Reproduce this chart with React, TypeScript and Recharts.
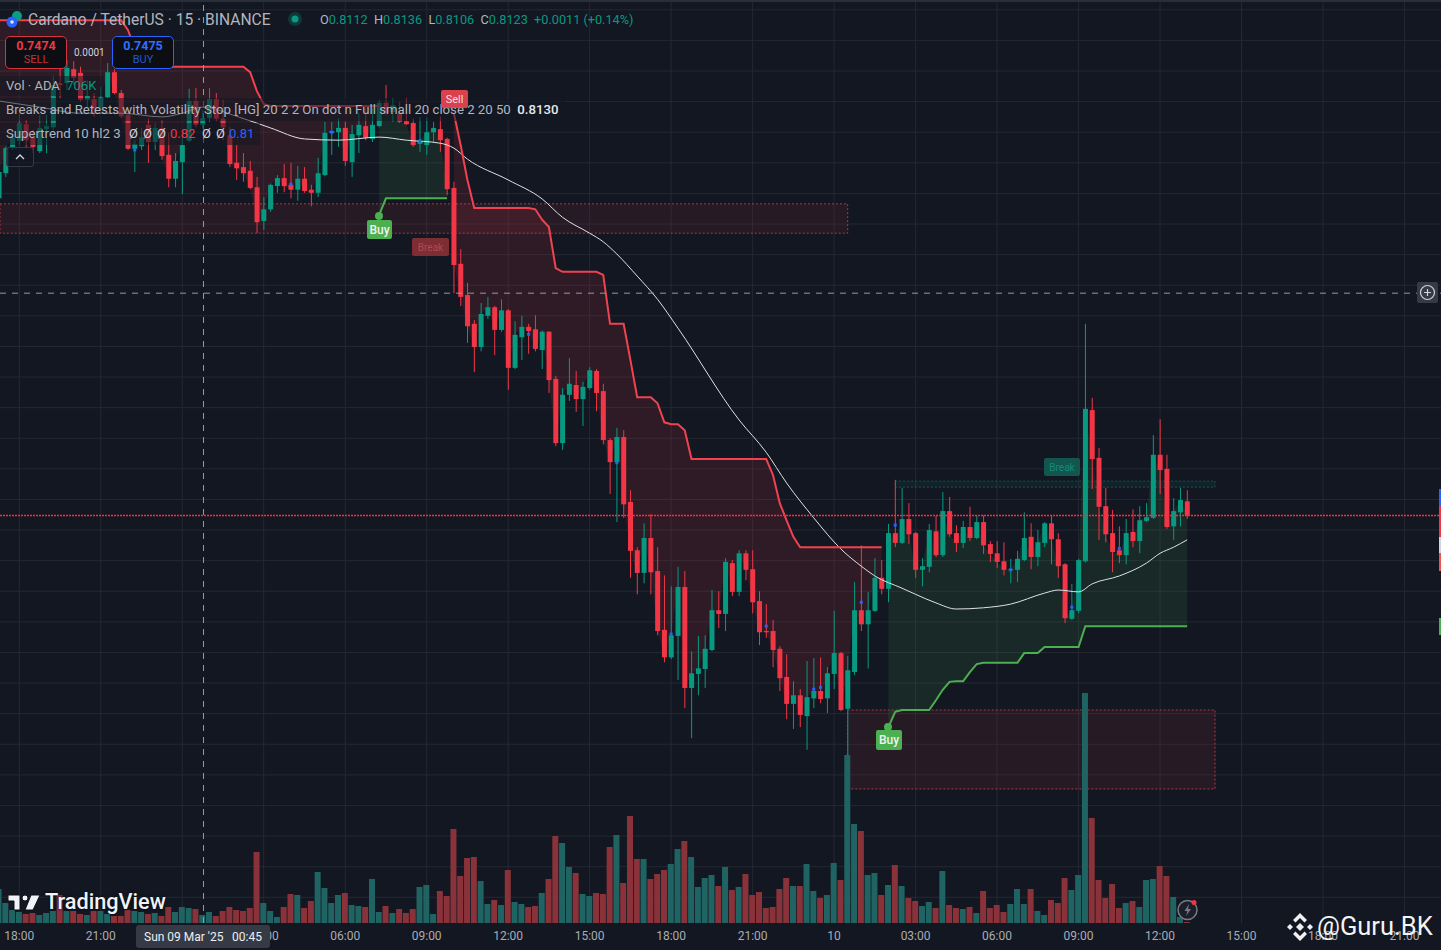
import React from 'react';
import {
  Area,
  Bar,
  CartesianGrid,
  ComposedChart,
  Line,
  ReferenceArea,
  ReferenceLine,
  Scatter,
  XAxis,
  YAxis,
} from 'recharts';

// 15m ADAUSDT, first bar is the one cut off at the left edge
const opens = [
  0.7992, 0.8033, 0.8074, 0.8086, 0.8113, 0.8091, 0.8069, 0.8105, 0.8108, 0.818, 0.818, 0.8203, 0.8197, 0.8153, 0.8154, 0.814,
  0.8157, 0.8198, 0.8164, 0.8128, 0.8073, 0.8077, 0.8112, 0.8084, 0.8107, 0.8063, 0.8024, 0.8051, 0.8086, 0.8151, 0.8112, 0.8123,
  0.8154, 0.8122, 0.8095, 0.805, 0.8043, 0.8037, 0.801, 0.7955, 0.7974, 0.8012, 0.8025, 0.8014, 0.8006, 0.8024, 0.8006, 0.8001,
  0.803, 0.8099, 0.81, 0.8107, 0.8051, 0.8095, 0.811, 0.8089, 0.811, 0.8148, 0.8133, 0.8131, 0.8118, 0.8115, 0.8081, 0.8079,
  0.81, 0.8105, 0.8089, 0.8009, 0.7885, 0.7834, 0.7787, 0.7749, 0.78, 0.7814, 0.7777, 0.7809, 0.7715, 0.7765, 0.7782, 0.7778,
  0.7744, 0.7774, 0.7697, 0.7592, 0.7671, 0.7687, 0.7664, 0.7682, 0.771, 0.7677, 0.7597, 0.7561, 0.7602, 0.7496, 0.7417, 0.738,
  0.7437, 0.7383, 0.7287, 0.7242, 0.7277, 0.7357, 0.7192, 0.7215, 0.7223, 0.7254, 0.7319, 0.7313, 0.7396, 0.7349, 0.7412, 0.7386,
  0.7334, 0.7285, 0.7285, 0.7256, 0.721, 0.7166, 0.718, 0.7146, 0.7175, 0.7187, 0.7175, 0.7215, 0.7249, 0.7158, 0.7218, 0.7319,
  0.7296, 0.7318, 0.7372, 0.7354, 0.7445, 0.7429, 0.7468, 0.7445, 0.7385, 0.739, 0.7448, 0.7409, 0.7481, 0.7445, 0.7429, 0.7455,
  0.7437, 0.7463, 0.7427, 0.7412, 0.7399, 0.7385, 0.7385, 0.7401, 0.7439, 0.7406, 0.7429, 0.7461, 0.7435, 0.7394, 0.7305, 0.7318,
  0.7399, 0.7646, 0.7568, 0.7489, 0.7445, 0.7417, 0.7409, 0.7447, 0.7432, 0.7465, 0.747, 0.7573, 0.755, 0.7456, 0.7479, 0.7497,
];
const closes = [
  0.8035, 0.8074, 0.8091, 0.8115, 0.8087, 0.8076, 0.8107, 0.811, 0.8177, 0.8177, 0.8205, 0.8189, 0.8153, 0.8159, 0.8138, 0.8157,
  0.8198, 0.8164, 0.8126, 0.8073, 0.8081, 0.8092, 0.8084, 0.8107, 0.8061, 0.8024, 0.8053, 0.8079, 0.8151, 0.8112, 0.8123, 0.8154,
  0.8122, 0.8108, 0.8048, 0.8041, 0.8033, 0.8009, 0.7953, 0.7974, 0.8014, 0.8025, 0.8012, 0.8006, 0.8024, 0.8004, 0.8001, 0.8033,
  0.8099, 0.8102, 0.8107, 0.8053, 0.8097, 0.8112, 0.8091, 0.8112, 0.8148, 0.8131, 0.8144, 0.8117, 0.8113, 0.8079, 0.8086, 0.81,
  0.8107, 0.8087, 0.8007, 0.7883, 0.7831, 0.7783, 0.7749, 0.7803, 0.7814, 0.7777, 0.7809, 0.7715, 0.7769, 0.7782, 0.7775, 0.7746,
  0.7774, 0.7695, 0.7592, 0.7671, 0.7689, 0.7664, 0.7684, 0.7711, 0.7674, 0.7597, 0.7561, 0.7602, 0.7492, 0.7416, 0.738, 0.7437,
  0.7381, 0.7285, 0.7242, 0.7278, 0.7357, 0.7192, 0.7216, 0.7224, 0.7256, 0.7319, 0.7313, 0.7398, 0.7349, 0.7412, 0.7385, 0.7332,
  0.7283, 0.7283, 0.7254, 0.7208, 0.7166, 0.718, 0.7148, 0.7177, 0.7187, 0.7174, 0.7216, 0.7249, 0.7156, 0.7221, 0.7319, 0.7296,
  0.7319, 0.7372, 0.7354, 0.7445, 0.7429, 0.7468, 0.7443, 0.7385, 0.7391, 0.745, 0.7409, 0.7481, 0.7443, 0.7429, 0.7455, 0.7437,
  0.7463, 0.7425, 0.7411, 0.7398, 0.7385, 0.7386, 0.7403, 0.7437, 0.7406, 0.743, 0.7461, 0.7435, 0.7391, 0.7306, 0.7319, 0.7401,
  0.7648, 0.7566, 0.7488, 0.7443, 0.7414, 0.7409, 0.7445, 0.7432, 0.7466, 0.7471, 0.7573, 0.7548, 0.7455, 0.7481, 0.7499, 0.7474,
];
const highs = [
  0.8038, 0.8077, 0.8099, 0.8131, 0.812, 0.8104, 0.8128, 0.8128, 0.8192, 0.8205, 0.8218, 0.8216, 0.8207, 0.8185, 0.8164, 0.8174,
  0.8213, 0.8203, 0.8169, 0.8136, 0.8087, 0.8107, 0.8123, 0.8115, 0.812, 0.8099, 0.8066, 0.8104, 0.8171, 0.8172, 0.8136, 0.8172,
  0.8164, 0.8153, 0.8108, 0.8079, 0.8066, 0.8053, 0.8027, 0.7994, 0.8016, 0.803, 0.8048, 0.805, 0.8045, 0.8043, 0.8014, 0.8058,
  0.8117, 0.8117, 0.8123, 0.8117, 0.8112, 0.8131, 0.8141, 0.814, 0.8153, 0.8177, 0.8156, 0.8149, 0.8156, 0.8123, 0.8125, 0.8125,
  0.8117, 0.8126, 0.8091, 0.8019, 0.7909, 0.7854, 0.7793, 0.7821, 0.7831, 0.7816, 0.7827, 0.7811, 0.7791, 0.78, 0.7787, 0.7801,
  0.7776, 0.7775, 0.7702, 0.7682, 0.7731, 0.771, 0.7692, 0.7716, 0.7713, 0.7689, 0.76, 0.7617, 0.7613, 0.7515, 0.7422, 0.7461,
  0.7476, 0.7422, 0.7376, 0.7358, 0.739, 0.7383, 0.7252, 0.7277, 0.7278, 0.7352, 0.735, 0.7404, 0.7401, 0.7417, 0.7417, 0.7417,
  0.735, 0.7329, 0.7303, 0.726, 0.7247, 0.7203, 0.719, 0.7236, 0.7241, 0.7242, 0.7226, 0.7318, 0.7251, 0.7244, 0.7365, 0.7425,
  0.7349, 0.7404, 0.7401, 0.746, 0.7532, 0.7519, 0.7494, 0.7447, 0.7404, 0.746, 0.7473, 0.7512, 0.7504, 0.7458, 0.7465, 0.7488,
  0.7474, 0.7474, 0.7432, 0.7432, 0.743, 0.7403, 0.7416, 0.7479, 0.7461, 0.745, 0.7463, 0.7474, 0.7445, 0.7396, 0.7362, 0.7403,
  0.7787, 0.7666, 0.7584, 0.7519, 0.7483, 0.7456, 0.7468, 0.7484, 0.7489, 0.7494, 0.7605, 0.7631, 0.7573, 0.7502, 0.7519, 0.7515,
];
const lows = [
  0.7989, 0.8027, 0.8071, 0.8079, 0.8076, 0.8066, 0.8066, 0.8066, 0.8104, 0.8156, 0.8169, 0.8177, 0.815, 0.8141, 0.8125, 0.8136,
  0.8156, 0.8162, 0.8123, 0.8071, 0.8035, 0.8071, 0.805, 0.8071, 0.8055, 0.801, 0.801, 0.7999, 0.8084, 0.8108, 0.8106, 0.8117,
  0.8118, 0.8087, 0.8043, 0.8022, 0.8019, 0.8007, 0.7935, 0.794, 0.797, 0.8001, 0.8002, 0.7992, 0.7988, 0.8001, 0.7979, 0.7994,
  0.8028, 0.8063, 0.8076, 0.8045, 0.8027, 0.8066, 0.8087, 0.8084, 0.8108, 0.8129, 0.8117, 0.8115, 0.8112, 0.8076, 0.8068, 0.8063,
  0.8084, 0.8068, 0.7997, 0.7837, 0.7816, 0.7756, 0.7708, 0.7742, 0.7795, 0.7736, 0.7774, 0.7679, 0.7713, 0.7728, 0.7738, 0.7742,
  0.7713, 0.7674, 0.7587, 0.7581, 0.7661, 0.7643, 0.762, 0.7679, 0.7644, 0.759, 0.7509, 0.7463, 0.747, 0.7372, 0.7345, 0.7363,
  0.7345, 0.7278, 0.7234, 0.7239, 0.7205, 0.7159, 0.711, 0.718, 0.7192, 0.7252, 0.729, 0.7285, 0.7342, 0.7342, 0.7368, 0.7314,
  0.7262, 0.7274, 0.7226, 0.7187, 0.7141, 0.7125, 0.7128, 0.7091, 0.7159, 0.7167, 0.7151, 0.719, 0.7154, 0.7082, 0.7213, 0.7285,
  0.7224, 0.7316, 0.7345, 0.7332, 0.7422, 0.7427, 0.7427, 0.7372, 0.7358, 0.7381, 0.7406, 0.7406, 0.7439, 0.7414, 0.7421, 0.7432,
  0.7435, 0.7411, 0.7398, 0.7388, 0.7376, 0.7363, 0.7365, 0.7399, 0.7386, 0.7391, 0.7422, 0.7394, 0.7372, 0.7298, 0.7303, 0.7314,
  0.7397, 0.7517, 0.7434, 0.743, 0.7381, 0.7396, 0.7394, 0.7422, 0.7412, 0.7463, 0.7468, 0.7509, 0.7452, 0.7434, 0.7456, 0.7468,
];
const volumes = [
  2992, 1760, 1144, 968, 792, 880, 704, 880, 1056, 2464, 1056, 1056, 792, 704, 1056, 1056, 792, 616, 616, 1144,
  1056, 968, 792, 880, 616, 1408, 968, 1408, 1320, 1232, 706, 968, 616, 1056, 1408, 1144, 1056, 1320, 6248, 1760,
  1056, 528, 1408, 2552, 2464, 1320, 1936, 4488, 3080, 1760, 2464, 2640, 1584, 1496, 1408, 3872, 968, 1496, 880, 1232,
  880, 1232, 3168, 3344, 792, 2816, 2376, 8272, 4136, 5720, 5808, 3696, 1672, 2024, 1584, 4664, 1848, 1672, 1408, 1496,
  2640, 3872, 7656, 7040, 4928, 4400, 2552, 2376, 2640, 2552, 6688, 7744, 3520, 9416, 5632, 5632, 3872, 4312, 4664, 5192,
  6512, 7216, 5808, 3168, 3960, 4224, 3256, 4928, 2904, 3168, 4312, 2464, 2728, 1320, 1408, 2992, 3960, 3256, 3256, 5192,
  2816, 2200, 2464, 5280, 3784, 14784, 8712, 8096, 4224, 4400, 2464, 3344, 5104, 3256, 2200, 1936, 1496, 1848, 1320, 4576,
  1584, 1320, 1232, 1408, 880, 2816, 1320, 1584, 968, 1672, 2992, 1672, 2992, 1056, 704, 2024, 1760, 3960, 2904, 4224,
  20240, 9240, 3784, 2200, 3432, 1320, 1760, 1936, 1408, 3784, 3872, 5016, 4136, 2288, 528, 88,
];

// white moving average, read at a few places along the curve
const maIndex = [0, 6, 12, 18, 24, 27, 30, 35, 40, 45, 50, 56, 60, 65, 67, 69, 75, 80, 83, 87, 89, 91, 94, 97, 100, 109, 113, 116, 120, 124, 127, 129, 133, 135, 138, 141, 145, 149, 154, 156, 159, 161, 165, 169, 171, 173, 175];
const maValues = [0.8151, 0.8141, 0.8131, 0.8131, 0.8125, 0.8131, 0.8141, 0.8126, 0.8107, 0.8089, 0.8087, 0.8092, 0.8087, 0.8082, 0.8074, 0.8056, 0.8022, 0.7991, 0.7961, 0.7935, 0.7921, 0.7901, 0.7865, 0.7827, 0.778, 0.763, 0.7577, 0.7527, 0.747, 0.7419, 0.7391, 0.7375, 0.7355, 0.7345, 0.7331, 0.7321, 0.7323, 0.7329, 0.7347, 0.7352, 0.7349, 0.7362, 0.7375, 0.7396, 0.7412, 0.7422, 0.7434];

// volatility stop, one value per bar for each leg
const stopRed1Start = 0;
const stopRed1 = [0.8283, 0.8283, 0.8283, 0.8283, 0.8283, 0.8283, 0.8283, 0.8283, 0.8283, 0.8283, 0.8283, 0.8283, 0.8283, 0.8283, 0.8283, 0.8283, 0.8283, 0.8283, 0.8283, 0.8267, 0.8238, 0.8218, 0.8207, 0.8207, 0.8207, 0.8207, 0.8207, 0.8207, 0.8207, 0.8207, 0.8207, 0.8207, 0.8207, 0.8207, 0.8207, 0.8207, 0.8207, 0.8198, 0.8167, 0.8146, 0.8143, 0.8143, 0.8143, 0.8143, 0.8143, 0.8143, 0.8143, 0.8143, 0.8143, 0.8143, 0.8143, 0.8143, 0.8143, 0.8143, 0.8143, 0.8143, 0.8143];
const stopGreen1Start = 56;
const stopGreen1 = [0.7965, 0.7992, 0.7992, 0.7992, 0.7992, 0.7992, 0.7992, 0.7992, 0.7992, 0.7992, 0.7992];
const stopRed2Start = 67;
const stopRed2 = [0.8131, 0.8079, 0.8022, 0.7976, 0.7976, 0.7976, 0.7976, 0.7976, 0.7976, 0.7976, 0.7976, 0.7976, 0.7974, 0.7957, 0.7945, 0.7878, 0.7872, 0.7872, 0.7872, 0.7872, 0.7872, 0.7872, 0.7867, 0.7787, 0.7787, 0.7787, 0.7728, 0.7667, 0.7667, 0.7667, 0.7657, 0.7626, 0.7623, 0.7623, 0.7613, 0.7566, 0.7566, 0.7566, 0.7566, 0.7566, 0.7566, 0.7566, 0.7566, 0.7566, 0.7566, 0.7566, 0.7566, 0.754, 0.7494, 0.7466, 0.7439, 0.7422, 0.7422, 0.7422, 0.7422, 0.7422, 0.7422, 0.7422, 0.7422, 0.7422, 0.7422, 0.7422, 0.7422, 0.7422];
const stopGreen2Start = 131;
const stopGreen2 = [0.7128, 0.7153, 0.7156, 0.7156, 0.7156, 0.7156, 0.7156, 0.7172, 0.7189, 0.7202, 0.7203, 0.7203, 0.7218, 0.7231, 0.7233, 0.7233, 0.7233, 0.7233, 0.7233, 0.7233, 0.7249, 0.7249, 0.7249, 0.7259, 0.7259, 0.7259, 0.7259, 0.7259, 0.7259, 0.7293, 0.7293, 0.7293, 0.7293, 0.7293, 0.7293, 0.7293, 0.7293, 0.7293, 0.7293, 0.7293, 0.7293, 0.7293, 0.7293, 0.7293, 0.7293];

// small blue supertrend marks
const dotIndex = [20, 43, 49, 62, 78, 91, 99, 113, 120, 121, 127, 132, 149, 158, 165];
const dotValues = [0.8071, 0.8015, 0.81, 0.8086, 0.777, 0.756, 0.728, 0.7293, 0.719, 0.7193, 0.7332, 0.7458, 0.7385, 0.7324, 0.742];

const timeTicks = [3, 15, 27, 39, 51, 63, 75, 87, 99, 111, 123, 135, 147, 159, 171, 183, 195, 207];
// the 00:00 slot sits under the crosshair date label
const timeLabels = ['18:00', '21:00', '', '03:00', '06:00', '09:00', '12:00', '15:00', '18:00', '21:00', '10', '03:00', '06:00', '09:00', '12:00', '15:00', '18:00', '21:00'];
const priceTicks = [0.685, 0.69, 0.695, 0.7, 0.705, 0.71, 0.715, 0.72, 0.725, 0.73, 0.735, 0.74, 0.745, 0.75, 0.755, 0.76, 0.765, 0.77, 0.775, 0.78, 0.785, 0.79, 0.795, 0.8, 0.805, 0.81, 0.815, 0.82, 0.825, 0.83];

const BG = '#131722';
const UP = '#089981';
const DOWN = '#f23645';
const STOP_RED = '#f0434f';
const STOP_GREEN = '#4caf50';
const FONT = 'Roboto, sans-serif';
const X_DOMAIN: [number, number] = [0.16, 212.38];

const rows = opens.map((open, i) => ({ i, open, close: closes[i], high: highs[i], low: lows[i], vol: volumes[i] }));
const maRows = maIndex.map((i, n) => ({ i, ma: maValues[n] }));
const dotRows = dotIndex.map((i, n) => ({ i, v: dotValues[n] }));
const legRows = (start: number, stops: number[]) => stops.map((stop, n) => ({ i: start + n, stop, band: [stop, closes[start + n]] }));

const legs = [
  { rows: legRows(stopRed1Start, stopRed1), color: STOP_RED, fill: 'rgba(242,54,69,0.12)' },
  { rows: legRows(stopGreen1Start, stopGreen1), color: STOP_GREEN, fill: 'rgba(76,175,80,0.12)' },
  { rows: legRows(stopRed2Start, stopRed2), color: STOP_RED, fill: 'rgba(242,54,69,0.125)' },
  { rows: legRows(stopGreen2Start, stopGreen2), color: STOP_GREEN, fill: 'rgba(76,175,80,0.12)' },
];

const Candle = (props: any) => {
  const { x, y, width, height, payload } = props;
  const perUnit = height / (payload.high - payload.low);
  const top = y + (payload.high - Math.max(payload.open, payload.close)) * perUnit;
  const bottom = y + (payload.high - Math.min(payload.open, payload.close)) * perUnit;
  const color = payload.close >= payload.open ? UP : DOWN;
  const mid = x + width / 2;
  return (
    <g>
      <rect x={mid - 0.5} y={y} width={1} height={height} fill={color} />
      <rect x={mid - 2.5} y={top} width={5} height={Math.max(bottom - top, 1)} fill={color} />
    </g>
  );
};

const VolumeBar = (props: any) => {
  const { x, y, width, height, payload } = props;
  return <rect x={x} y={y} width={width} height={height} fill={payload.close >= payload.open ? '#1f6463' : '#8a3239'} />;
};

const BlueDot = (props: any) => <rect x={props.cx - 1.5} y={props.cy - 1.5} width={3} height={3} fill="#2962ff" />;

const Txt = ({ x, y, size = 13, color = '#b2b5be', children, weight, style }: any) => (
  <div style={{ position: 'absolute', left: x, top: y, fontSize: size, lineHeight: '16px', color, fontWeight: weight, whiteSpace: 'pre', fontFamily: FONT, ...style }}>
    {children}
  </div>
);

const Box = ({ x, y, w, h, bg, color, size = 11, radius = 2, children, style }: any) => (
  <div style={{ position: 'absolute', left: x, top: y, width: w, height: h, background: bg, color, fontSize: size, borderRadius: radius, display: 'flex', alignItems: 'center', justifyContent: 'center', fontFamily: FONT, ...style }}>
    {children}
  </div>
);

const Ohlc = ({ k, v }: { k: string; v: string }) => (
  <span>
    <span style={{ color: '#b2b5be' }}>{k}</span>
    <span style={{ color: '#089981' }}>{v}</span>
  </span>
);

const Overlay = () => (
  <>
    {/* dim panels behind the legend rows */}
    <div style={{ position: 'absolute', left: 0, top: 76, width: 104, height: 20, background: 'rgba(19,23,34,0.55)' }} />
    <div style={{ position: 'absolute', left: 0, top: 98, width: 566, height: 23, background: 'rgba(19,23,34,0.55)' }} />
    <div style={{ position: 'absolute', left: 0, top: 123, width: 260, height: 22, background: 'rgba(19,23,34,0.55)' }} />
    <div style={{ position: 'absolute', left: 0, top: 0, width: 1441, height: 2, background: '#2a2e39' }} />

    <svg style={{ position: 'absolute', left: 4, top: 9 }} width={22} height={22}>
      <circle cx={13} cy={7} r={5} fill="#0a9d86" />
      <circle cx={8} cy={13} r={5.5} fill="#2962ff" />
      <circle cx={8} cy={13} r={1.8} fill="#dfe6ff" />
    </svg>
    <Txt x={28} y={12} size={15.6}>Cardano / TetherUS · 15 · BINANCE</Txt>
    <svg style={{ position: 'absolute', left: 287, top: 11 }} width={16} height={16}>
      <circle cx={8} cy={8} r={7} fill="#089981" opacity={0.25} />
      <circle cx={8} cy={8} r={3.5} fill="#089981" />
    </svg>
    <Txt x={320} y={12} size={12.7}>
      <Ohlc k="O" v="0.8112" />{'  '}
      <Ohlc k="H" v="0.8136" />{'  '}
      <Ohlc k="L" v="0.8106" />{'  '}
      <Ohlc k="C" v="0.8123" />{'  '}
      <span style={{ color: '#089981' }}>+0.0011 (+0.14%)</span>
    </Txt>

    <Box x={5} y={36} w={62} h={33} bg="#0c0e14" radius={5} style={{ border: '1px solid #d8343f', boxSizing: 'border-box', flexDirection: 'column', lineHeight: '14px' }}>
      <span style={{ color: '#f23645', fontSize: 12.5, fontWeight: 700 }}>0.7474</span>
      <span style={{ color: '#c53039', fontSize: 11 }}>SELL</span>
    </Box>
    <Txt x={74} y={45} size={10} color="#d1d4dc">0.0001</Txt>
    <Box x={112} y={36} w={62} h={33} bg="#0c0e14" radius={5} style={{ border: '1px solid #2962ff', boxSizing: 'border-box', flexDirection: 'column', lineHeight: '14px' }}>
      <span style={{ color: '#2f6fff', fontSize: 12.5, fontWeight: 700 }}>0.7475</span>
      <span style={{ color: '#2457c9', fontSize: 11 }}>BUY</span>
    </Box>

    <Txt x={6} y={78} size={13}>Vol · ADA  <span style={{ color: '#089981' }}>706K</span></Txt>
    <Txt x={6} y={102} size={13.2}>
      Breaks and Retests with Volatility Stop [HG] 20 2 2 On dot n Full small 20 close 2 20 50  <span style={{ color: '#e8e9ed', fontWeight: 500 }}>0.8130</span>
    </Txt>
    <Txt x={6} y={126} size={13.2}>Supertrend 10 hl2 3</Txt>
    <Txt x={129} y={126} size={13} color="#d1d4dc">Ø</Txt>
    <Txt x={143} y={126} size={13} color="#d1d4dc">Ø</Txt>
    <Txt x={157} y={126} size={13} color="#d1d4dc">Ø</Txt>
    <Txt x={170} y={126} size={13} color="#f23645">0.82</Txt>
    <Txt x={202} y={126} size={13} color="#d1d4dc">Ø</Txt>
    <Txt x={216} y={126} size={13} color="#d1d4dc">Ø</Txt>
    <Txt x={229} y={126} size={13} color="#2962ff">0.81</Txt>
    <div style={{ position: 'absolute', left: 6, top: 147, width: 28, height: 20, border: '1px solid #363a45', borderRadius: 3, background: 'rgba(19,23,34,0.7)', boxSizing: 'border-box' }}>
      <svg width={26} height={18}>
        <path d="M9 11 L13 7 L17 11" fill="none" stroke="#d1d4dc" strokeWidth={1.3} />
      </svg>
    </div>

    <svg style={{ position: 'absolute', left: 360, top: 208 }} width={40} height={16}>
      <circle cx={19} cy={8} r={4} fill={STOP_GREEN} />
    </svg>
    <Box x={367} y={220} w={25} h={19} bg={STOP_GREEN} color="#f2f3f5" size={12} style={{ fontWeight: 500 }}>Buy</Box>
    <svg style={{ position: 'absolute', left: 870, top: 720 }} width={40} height={16}>
      <circle cx={18} cy={7} r={4} fill={STOP_GREEN} />
    </svg>
    <Box x={876} y={730} w={26} h={20} bg={STOP_GREEN} color="#f2f3f5" size={12} style={{ fontWeight: 500 }}>Buy</Box>
    <Box x={441} y={90} w={27} h={18} bg="rgba(242,70,80,0.9)" color="#e8dfe2" size={11}>Sell</Box>
    <Box x={412} y={238} w={37} h={18} bg="#7e2d33" color="#b4484f" size={10}>Break</Box>
    <Box x={1044} y={458} w={36} h={18} bg="#11564f" color="#168a78" size={10}>Break</Box>

    {/* time axis crosshair label */}
    <Box x={136} y={925} w={134} h={23} bg="#363a45" color="#eceef2" size={12} radius={3} style={{ justifyContent: 'space-between', padding: '0 8px', boxSizing: 'border-box' }}>
      <span>Sun 09 Mar '25</span>
      <span>00:45</span>
    </Box>

    {/* plus button at the crosshair line */}
    <div style={{ position: 'absolute', left: 1417, top: 282, width: 21, height: 21, background: '#363a45', borderRadius: 2 }}>
      <svg width={21} height={21}>
        <circle cx={10.5} cy={10.5} r={7} fill="none" stroke="#d1d4dc" strokeWidth={1.2} />
        <path d="M10.5 7 V14 M7 10.5 H14" stroke="#d1d4dc" strokeWidth={1.2} />
      </svg>
    </div>

    {/* price scale tags poking in at the right edge */}
    <div style={{ position: 'absolute', left: 1439, top: 489, width: 2, height: 17, background: '#2962ff' }} />
    <div style={{ position: 'absolute', left: 1439, top: 506, width: 2, height: 31, background: '#f23645' }} />
    <div style={{ position: 'absolute', left: 1439, top: 537, width: 2, height: 16, background: '#d1d4dc' }} />
    <div style={{ position: 'absolute', left: 1439, top: 553, width: 2, height: 18, background: '#ef5350' }} />
    <div style={{ position: 'absolute', left: 1439, top: 618, width: 2, height: 17, background: STOP_GREEN }} />

    {/* tradingview logo */}
    <svg style={{ position: 'absolute', left: 8, top: 893 }} width={34} height={20}>
      <path d="M0 2 H12 V17 H6 V8 H0 Z" fill="#f0f3fa" stroke="#111" strokeWidth={1} />
      <circle cx={17} cy={5} r={3} fill="#f0f3fa" stroke="#111" strokeWidth={1} />
      <path d="M23 2 H32 L25 17 H17 Z" fill="#f0f3fa" stroke="#111" strokeWidth={1} />
    </svg>
    <Txt x={45} y={892} size={21.7} color="#f0f3fa" weight={500} style={{ textShadow: '0 0 3px #000', lineHeight: '20px' }}>TradingView</Txt>

    {/* lightning badge */}
    <svg style={{ position: 'absolute', left: 1176, top: 898 }} width={24} height={24}>
      <circle cx={11.5} cy={12} r={9.5} fill="#1c1f29" stroke="#787b86" strokeWidth={1.5} />
      <path d="M13 6 L8.5 13 H11.5 L10 18 L15 11 H12 Z" fill="#787b86" />
      <circle cx={18} cy={4.5} r={2.5} fill="#f23645" />
    </svg>

    {/* watermark */}
    <svg style={{ position: 'absolute', left: 1286, top: 912 }} width={28} height={30}>
      <g fill="#f0f0f0">
        <path d="M14 1 L21 8 L18.5 10.5 L14 6 L9.5 10.5 L7 8 Z" />
        <path d="M14 29 L21 22 L18.5 19.5 L14 24 L9.5 19.5 L7 22 Z" />
        <path d="M14 11 L18 15 L14 19 L10 15 Z" />
        <path d="M4 12 L7 15 L4 18 L1 15 Z" />
        <path d="M24 12 L27 15 L24 18 L21 15 Z" />
      </g>
    </svg>
    <Txt x={1317} y={910} size={25.5} color="#f4f4f4" style={{ lineHeight: '32px' }}>@Guru.BK</Txt>
  </>
);

export default function App() {
  return (
    <div style={{ position: 'absolute', left: 0, top: 0, width: 1441, height: 950, background: BG, overflow: 'hidden' }}>
      <ComposedChart width={1441} height={950} data={rows} margin={{ top: 0, right: 0, bottom: 0, left: 0 }}>
        <XAxis
          dataKey="i"
          type="number"
          domain={X_DOMAIN}
          allowDataOverflow
          ticks={timeTicks}
          interval={0}
          tickFormatter={(v: number) => timeLabels[timeTicks.indexOf(v)]}
          axisLine={false}
          tickLine={false}
          height={27}
          tick={{ fill: '#a9acb5', fontSize: 12, fontFamily: FONT }}
        />
        <XAxis xAxisId="vol" dataKey="i" type="number" domain={X_DOMAIN} allowDataOverflow hide />
        <YAxis yAxisId="price" domain={[0.6808, 0.8316]} allowDataOverflow ticks={priceTicks} hide />
        <YAxis yAxisId="vol" domain={[0, 81224]} allowDataOverflow hide />

        <CartesianGrid
          yAxisId="price"
          stroke="#242832"
          verticalValues={timeTicks}
          horizontalValues={priceTicks}
        />

        <ReferenceArea yAxisId="price" x1={0.16} x2={125} y1={0.7983} y2={0.7935} fill="rgba(242,54,69,0.17)" stroke="#a83a44" strokeDasharray="2 2" />
        <ReferenceArea yAxisId="price" x1={125} x2={179.1} y1={0.7156} y2={0.7027} fill="rgba(242,54,69,0.17)" stroke="#a83a44" strokeDasharray="2 2" />
        <ReferenceArea yAxisId="price" x1={132} x2={179.1} y1={0.753} y2={0.752} fill="rgba(8,153,129,0.16)" stroke="#11564f" strokeDasharray="2 2" />

        {legs.map((leg, n) => (
          <Area
            key={`band${n}`}
            yAxisId="price"
            data={leg.rows}
            dataKey="band"
            type="linear"
            stroke="none"
            fill={leg.fill}
            fillOpacity={1}
            dot={false}
            activeDot={false}
            isAnimationActive={false}
          />
        ))}

        <Bar xAxisId="vol" yAxisId="vol" dataKey="vol" barSize={6} shape={VolumeBar} isAnimationActive={false} />

        <Line yAxisId="price" data={maRows} dataKey="ma" type="monotone" stroke="#dfe1e6" strokeWidth={1} dot={false} activeDot={false} isAnimationActive={false} />
        {legs.map((leg, n) => (
          <Line
            key={`stop${n}`}
            yAxisId="price"
            data={leg.rows}
            dataKey="stop"
            type="linear"
            stroke={leg.color}
            strokeWidth={2}
            dot={false}
            activeDot={false}
            isAnimationActive={false}
          />
        ))}

        <ReferenceLine yAxisId="price" y={0.74737} stroke="#ff2a3c" strokeWidth={1.5} strokeDasharray="2 1" />
        <ReferenceLine yAxisId="price" y={0.7837} stroke="#9598a1" strokeDasharray="6 6" />
        <ReferenceLine yAxisId="price" x={30.13} stroke="#9598a1" strokeDasharray="6 6" />

        <Bar
          yAxisId="price"
          dataKey={(d: any) => [d.low, d.high]}
          barSize={5}
          shape={Candle}
          isAnimationActive={false}
        />
        <Scatter yAxisId="price" data={dotRows} dataKey="v" shape={BlueDot} isAnimationActive={false} />
      </ComposedChart>
      <Overlay />
    </div>
  );
}
